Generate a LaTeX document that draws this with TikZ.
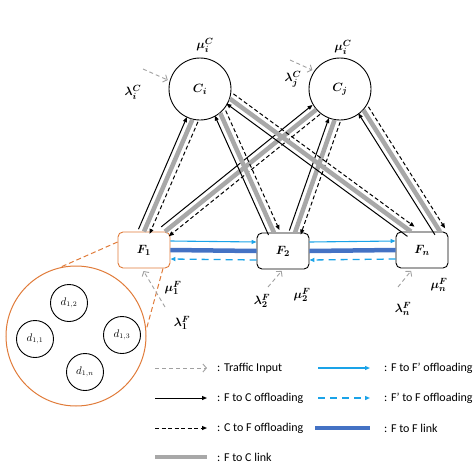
\documentclass[tikz,border=0pt]{standalone}
\usepackage{amsmath,bm}
\usepackage{fontspec}
\newfontfamily\legfont{Carlito}
\usetikzlibrary{arrows.meta,calc}
\definecolor{orng}{HTML}{E07B39}
\definecolor{lblue}{HTML}{1AA3E8}
\definecolor{dblue}{HTML}{4472C4}
\definecolor{lgray}{HTML}{A8A8A8}
\definecolor{tgray}{HTML}{A0A0A0}
\tikzset{
  cnode/.style={circle, draw, line width=0.9pt, minimum size=62pt, inner sep=0pt, font=\fontsize{12.5}{14}\selectfont},
  fnode/.style={draw, rounded corners=5pt, minimum width=52pt, minimum height=36pt, line width=0.9pt, inner sep=0pt, font=\fontsize{13}{14}\selectfont},
  dnode/.style={circle, draw, line width=0.9pt, minimum size=37pt, inner sep=0pt, font=\fontsize{10.5}{12}\selectfont},
  bignode/.style={circle, draw=orng, line width=1pt, minimum size=140pt, inner sep=0pt},
  lbl/.style={font=\fontsize{12.5}{14}\selectfont, inner sep=0pt},
  traffic/.style={tgray, line width=0.9pt, dash pattern=on 4pt off 3pt, -{Straight Barb[length=3.5pt,width=8pt]}},
  offl/.style={black, line width=1pt, -{Triangle[length=5pt,width=4pt]}},
  cofl/.style={black, line width=1pt, dash pattern=on 4pt off 2.5pt, -{Triangle[length=5pt,width=4pt]}},
  clink/.style={lgray, line width=4.5pt},
  ffo/.style={lblue, line width=1.1pt, -{Triangle[length=5pt,width=4pt]}},
  ffd/.style={lblue, line width=1.3pt, dash pattern=on 7pt off 5pt, -{Triangle[length=5pt,width=4pt]}},
  fflink/.style={dblue, line width=4.5pt},
  zoomline/.style={orng, line width=1pt, dash pattern=on 5pt off 3pt},
  leg/.style={font=\legfont\fontsize{12}{14}\selectfont, anchor=west, inner sep=0pt}
}
\newcommand\bundle[2]{%
  \draw[clink] (#1) -- (#2);
  \draw[offl] ($(#1)!6pt!90:(#2)$) -- ($(#2)!6pt!-90:(#1)$);
  \draw[cofl] ($(#2)!6pt!90:(#1)$) -- ($(#1)!6pt!-90:(#2)$);
}
\begin{document}
\begin{tikzpicture}[x=1pt,y=-1pt]
\useasboundingbox (0,0) rectangle (474,466);
% nodes
\node[cnode] (Ci) at (200,89) {$\bm{C_i}$};
\node[cnode] (Cj) at (340,89) {$\bm{C_j}$};
\node[fnode, draw=orng] (F1) at (144,250) {$\bm{F_1}$};
\node[fnode] (F2) at (283,251) {$\bm{F_2}$};
\node[fnode] (Fn) at (422,250) {$\bm{F_n}$};
\node[bignode] (zc) at (76,336) {};
\node[dnode] (d12) at (69,303) {$d_{1,2}$};
\node[dnode] (d11) at (35,339) {$d_{1,1}$};
\node[dnode] (d13) at (122,335) {$d_{1,3}$};
\node[dnode] (d1n) at (85,372) {$d_{1,n}$};
% bundle end points
\coordinate (a1) at (F1.north);
\coordinate (b1) at (Ci.-104);
\coordinate (a2) at ([xshift=21pt]F1.north);
\coordinate (b2) at (Cj.-139);
\coordinate (a3) at ([xshift=-9pt]F2.north);
\coordinate (b3) at (Ci.-50);
\coordinate (a4) at ([xshift=12pt]F2.north);
\coordinate (b4) at (Cj.-100);
\coordinate (a5) at ([xshift=-11pt]Fn.north);
\coordinate (b5) at (Ci.-18);
\coordinate (a6) at ([xshift=18pt]Fn.north);
\coordinate (b6) at (Cj.-42);
\bundle{a1}{b1}
\bundle{a2}{b2}
\bundle{a3}{b3}
\bundle{a4}{b4}
\bundle{a5}{b5}
\bundle{a6}{b6}
% F to F
\draw[fflink] (F1.east) -- (F2.west);
\draw[ffo] ([yshift=9pt]F1.east) -- ([yshift=9pt]F2.west);
\draw[ffd] ([yshift=-9pt]F2.west) -- ([yshift=-9pt]F1.east);
\draw[fflink] (F2.east) -- (Fn.west);
\draw[ffo] ([yshift=9pt]F2.east) -- ([yshift=9pt]Fn.west);
\draw[ffd] ([yshift=-9pt]Fn.west) -- ([yshift=-9pt]F2.east);
% zoom lines
\draw[zoomline] ([yshift=8pt]F1.west) -- (zc.103);
\draw[zoomline] ([xshift=19pt]F1.south) -- (zc.5);
% traffic inputs
\coordinate (tci) at (143,69);
\coordinate (tcj) at (290,60);
\coordinate (tf1) at (165,307);
\coordinate (tf2) at (268,287);
\coordinate (tfn) at (398,287);
\draw[traffic, shorten >=2pt] (tci) -- (Ci.165);
\draw[traffic, shorten >=2pt] (tcj) -- (Cj.145);
\draw[traffic, shorten >=3pt] (tf1) -- ([xshift=-2pt]F1.south);
\draw[traffic, shorten >=2pt] (tf2) -- (F2.south);
\draw[traffic, shorten >=3pt] (tfn) -- ([xshift=-9pt]Fn.south);
% rate labels
\node[lbl] (muci) at (205,45) {$\bm{\mu_i^C}$};
\node[lbl] (laci) at (133,92) {$\bm{\lambda_i^C}$};
\node[lbl] (lacj) at (293,79) {$\bm{\lambda_j^C}$};
\node[lbl] (mucj) at (343,47) {$\bm{\mu_i^C}$};
\node[lbl] (muf1) at (173,288) {$\bm{\mu_1^F}$};
\node[lbl] (laf1) at (182,323) {$\bm{\lambda_1^F}$};
\node[lbl] (laf2) at (262,301) {$\bm{\lambda_2^F}$};
\node[lbl] (muf2) at (302,295) {$\bm{\mu_2^F}$};
\node[lbl] (mufn) at (439,285) {$\bm{\mu_n^F}$};
\node[lbl] (lafn) at (403,309) {$\bm{\lambda_n^F}$};
% legend
\node[leg] (t1) at (217,368) {: Traffic Input};
\node[leg] (t2) at (217,398) {: F to C offloading};
\node[leg] (t3) at (217,428) {: C to F offloading};
\node[leg] (t4) at (217,457) {: F to C link};
\node[leg] (t5) at (384,368) {: F to F’ offloading};
\node[leg] (t6) at (384,398) {: F’ to F offloading};
\node[leg] (t7) at (384,428) {: F to F link};
\draw[traffic] ([xshift=-62pt]t1.west) -- ([xshift=-10pt]t1.west);
\draw[offl] ([xshift=-62pt]t2.west) -- ([xshift=-10pt]t2.west);
\draw[cofl] ([xshift=-62pt]t3.west) -- ([xshift=-10pt]t3.west);
\draw[clink] ([xshift=-62pt]t4.west) -- ([xshift=-10pt]t4.west);
\draw[ffo] ([xshift=-66pt]t5.west) -- ([xshift=-14pt]t5.west);
\draw[ffd] ([xshift=-66pt]t6.west) -- ([xshift=-14pt]t6.west);
\draw[fflink] ([xshift=-69pt]t7.west) -- ([xshift=-14pt]t7.west);
\end{tikzpicture}
\end{document}
